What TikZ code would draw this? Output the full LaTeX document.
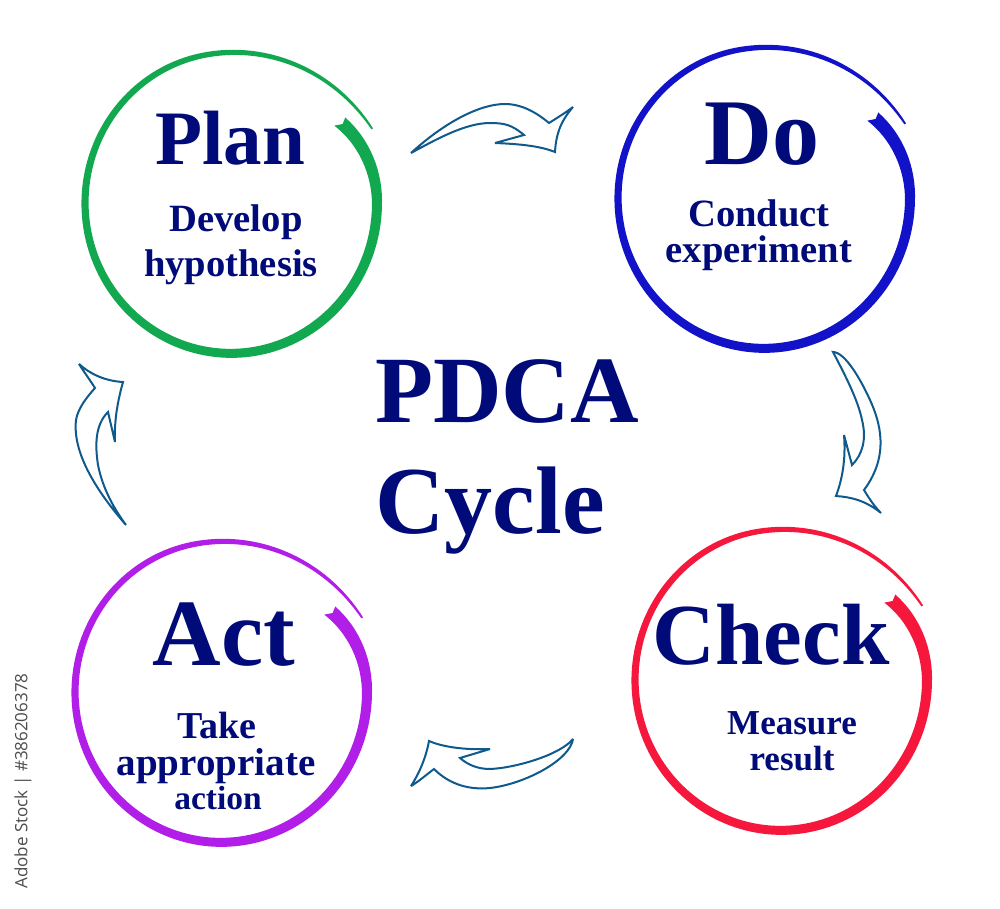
\documentclass[tikz,border=0pt]{standalone}
\usepackage{fontspec}
\setmainfont{Liberation Serif}
\newfontfamily\stockfont{Open Sans}
\usetikzlibrary{positioning, calc}

\definecolor{titlenavy}{HTML}{000A78}
\definecolor{flowblue}{HTML}{0F5A8C}
\definecolor{planring}{HTML}{12A850}
\definecolor{doring}{HTML}{1212C8}
\definecolor{checkring}{HTML}{F5183C}
\definecolor{actring}{HTML}{B01EE8}

\begin{document}
\begin{tikzpicture}[
    x=1pt, y=-1pt,
    % Pen stroke of a ring: radius and width along the angle
    declare function={
        tailpart(\a)=max(0,(100-\a)/73);
        headpart(\a)=max(0,(\a-360)/36);
        ringrad(\a)=146+12.5*tailpart(\a)*tailpart(\a)-11.5*headpart(\a)*headpart(\a);
        ringwid(\a)=1+9*pow(min(1,0.01+(\a-27)/333),0.5)+3.5*headpart(\a);
    },
    % Styling
    step title/.style={font=\bfseries\fontsize{#1}{#1}\selectfont, text=titlenavy, anchor=base, inner sep=0pt},
    step text/.style={font=\bfseries\fontsize{#1}{#1}\selectfont, text=titlenavy, anchor=base, inner sep=0pt},
    flow arrow/.style={draw=flowblue, line width=2pt, line join=miter, miter limit=2.5, fill=white},
    ring plot/.style={samples=160, variable=\a}
]
\useasboundingbox (0,0) rectangle (1000,909);

% --- Rings ---
% Format: Colour / Centre x / Centre y
\foreach \col/\cx/\cy in {planring/231/203, doring/764/198, checkring/781/680, actring/221/692} {
    \fill[\col]
        plot[ring plot, domain=27:396] ({\cx+(ringrad(\a)+ringwid(\a)/2)*cos(\a)}, {\cy-1.03*(ringrad(\a)+ringwid(\a)/2)*sin(\a)})
        -- ({\cx+ringrad(394.5)*cos(394.5)}, {\cy-1.03*ringrad(394.5)*sin(394.5)})
        -- plot[ring plot, domain=396:27] ({\cx+(ringrad(\a)-ringwid(\a)/2)*cos(\a)}, {\cy-1.03*(ringrad(\a)-ringwid(\a)/2)*sin(\a)})
        -- cycle;
}

% --- Arrows ---
% Plan to Do
\draw[flow arrow] (411,153) .. controls (445,122) and (480,104) .. (505,104)
    .. controls (522,104) and (537,113) .. (549,123)
    .. controls (557,118) and (565,113) .. (573,107)
    .. controls (560,122) and (556,135) .. (555,152)
    .. controls (540,146) and (520,144) .. (495,143)
    -- (524,135)
    .. controls (512,125) and (505,123) .. (490,123)
    .. controls (465,123) and (435,140) .. (411,153) -- cycle;
% Do to Check
\draw[flow arrow] (833,352) .. controls (845,352) and (861,380) .. (870,400)
    .. controls (880,422) and (890,455) .. (864,490)
    .. controls (870,500) and (875,507) .. (881,513)
    .. controls (865,500) and (850,497) .. (836,496)
    .. controls (842,480) and (846,460) .. (844,435)
    -- (852,465)
    .. controls (862,455) and (867,440) .. (862,420)
    .. controls (858,400) and (845,375) .. (833,352) -- cycle;
% Check to Act
\draw[flow arrow] (573,739) .. controls (560,755) and (515,768) .. (490,769)
    .. controls (478,769) and (468,765) .. (460,758)
    -- (490,749)
    .. controls (470,750) and (445,748) .. (429,741)
    .. controls (426,757) and (420,772) .. (411,786)
    .. controls (418,782) and (426,775) .. (434,769)
    .. controls (450,785) and (470,790) .. (490,788)
    .. controls (525,784) and (570,760) .. (573,739) -- cycle;
% Act to Plan
\draw[flow arrow] (126,525) .. controls (100,495) and (72,455) .. (76,420)
    .. controls (78,408) and (87,397) .. (95,388)
    .. controls (90,380) and (84,372) .. (79,364)
    .. controls (90,374) and (105,381) .. (123,382)
    .. controls (118,400) and (114,420) .. (115,442)
    -- (108,412)
    .. controls (95,425) and (95,445) .. (98,465)
    .. controls (103,490) and (115,510) .. (126,525) -- cycle;

% --- Centre title ---
\node[step title=95] (pdca) at (507,422) {PDCA};
\node[step title=96] (cycle) at (490,533) {Cycle};

% --- Plan ---
\node[step title=77] (plan) at (230,165) {Plan};
\node[step text=38.6] (plan-a) at (236,232) {Develop};
\node[step text=38.6] (plan-b) at (231,276) {hypothesis};

% --- Do ---
\node[step title=94] (do) at (762,165) {Do};
\node[step text=38.6] (do-a) at (759,227) {Conduct};
\node[step text=38.6] (do-b) at (759,262) {experiment};

% --- Check ---
\node[step title=87] (check) at (771,664) {Check};
\node[step text=35] (check-a) at (792,734) {Measure};
\node[step text=35] (check-b) at (792,770) {result};

% --- Act ---
\node[step title=95] (act) at (224,665) {Act};
\node[step text=38] (act-a) at (217,738) {Take};
\node[step text=39] (act-b) at (216,775) {appropriate};
\node[step text=33.5] (act-c) at (218,809) {action};

% --- Side note ---
\node[font=\stockfont\fontsize{17}{17}\selectfont, text=black!70, rotate=90, inner sep=0pt] (stock) at (23,781) {Adobe Stock | \#386206378};

\end{tikzpicture}
\end{document}
